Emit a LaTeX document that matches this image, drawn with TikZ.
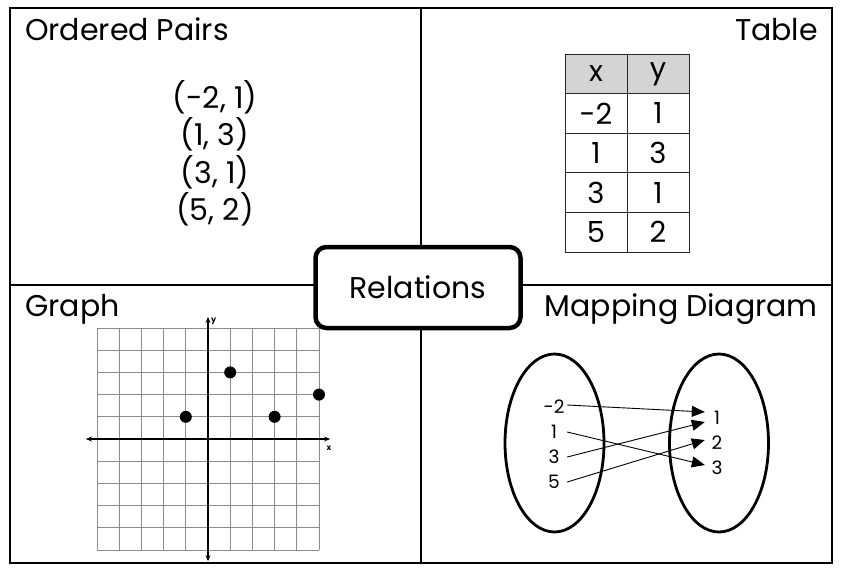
\documentclass[tikz,border=0pt]{standalone}
\usepackage{fontspec}
\setmainfont{Poppins}
\usetikzlibrary{arrows.meta}
\tikzset{
  titletext/.style={
    inner sep=0pt,
    font=\fontsize{30}{33}\selectfont
  },
  pairtext/.style={
    inner sep=0pt,
    anchor=base,
    font=\fontsize{30}{33}\selectfont
  },
  cellbox/.style={
    draw=black!85,
    line width=0.9pt,
    minimum width=62pt,
    minimum height=39.6pt,
    inner sep=0pt,
    font=\fontsize{29}{32}\selectfont
  },
  headbox/.style={
    cellbox,
    fill=black!17
  },
  centerbox/.style={
    draw=black,
    fill=white,
    line width=4.5pt,
    rounded corners=11pt,
    minimum width=205pt,
    minimum height=81pt,
    font=\fontsize{30}{33}\selectfont
  },
  gridline/.style={
    draw=black!45,
    line width=0.9pt
  },
  axisline/.style={
    {Stealth[length=6pt,width=5pt]}-{Stealth[length=6pt,width=5pt]},
    line width=1.8pt
  },
  axislabel/.style={
    inner sep=0pt,
    font=\fontsize{8}{9}\selectfont\bfseries
  },
  dotmark/.style={
    fill=black
  },
  setoval/.style={
    line width=2.8pt
  },
  mapnum/.style={
    inner sep=0pt,
    minimum width=24pt,
    minimum height=16pt,
    font=\fontsize{18.5}{20}\selectfont
  },
  maparrow/.style={
    -{Triangle[length=13pt,width=11pt]},
    line width=0.9pt
  }
}

\begin{document}
\begin{tikzpicture}[x=1pt,y=-1pt]
  \useasboundingbox (0,0) rectangle (842,570);

  % frame and quadrants
  \draw[line width=1.2pt] (10,8) rectangle (832,563);
  \draw[line width=1.2pt] (421,8) -- (421,563);
  \draw[line width=1.2pt] (10,285) -- (832,285);

  % titles
  \node[titletext, anchor=base west] (pairstitle) at (25,40) {Ordered Pairs};
  \node[titletext, anchor=base east] (tabletitle) at (818,40) {Table};
  \node[titletext, anchor=base west] (graphtitle) at (25,316) {Graph};
  \node[titletext, anchor=base east] (maptitle) at (818,316) {Mapping Diagram};

  % ordered pairs
  \node[pairtext] (pairA) at (215,108) {(-2, 1)};
  \node[pairtext] (pairB) at (215,145.5) {(1, 3)};
  \node[pairtext] (pairC) at (215,183) {(3, 1)};
  \node[pairtext] (pairD) at (215,220.5) {(5, 2)};

  % table
  \node[headbox] (headx) at (596,73.8) {x};
  \node[headbox] (heady) at (658,73.8) {y};
  \foreach \xv/\yv [count=\r] in {-2/1, 1/3, 3/1, 5/2} {
    \node[cellbox] (cellx\r) at (596,73.8+39.6*\r) {\xv};
    \node[cellbox] (celly\r) at (658,73.8+39.6*\r) {\yv};
  }

  % graph
  \begin{scope}[shift={(208,439)}, x=22.2pt, y=22.2pt]
    \foreach \k in {-5,...,5} {
      \draw[gridline] (\k,-5) -- (\k,5);
      \draw[gridline] (-5,\k) -- (5,\k);
    }
    \draw[axisline] (-5.5,0) -- (5.5,0);
    \draw[axisline] (0,-5.5) -- (0,5.5);
    \node[axislabel] (xlabel) at (5.45,-0.4) {x};
    \node[axislabel] (ylabel) at (0.25,5.28) {y};
    \foreach \px/\py in {-1/1, 1/3, 3/1, 5/2}
      \fill[dotmark] (\px,\py) circle[radius=6pt];
  \end{scope}

  % mapping diagram
  \draw[setoval] (554.5,443) ellipse[x radius=49.5pt, y radius=89pt];
  \draw[setoval] (719,443) ellipse[x radius=49.5pt, y radius=89pt];

  \node[mapnum] (domA) at (554,407) {-2};
  \node[mapnum] (domB) at (554,432) {1};
  \node[mapnum] (domC) at (554,457) {3};
  \node[mapnum] (domD) at (554,482) {5};
  \node[mapnum] (ranA) at (717,418) {1};
  \node[mapnum] (ranB) at (717,443) {2};
  \node[mapnum] (ranC) at (717,468) {3};

  \draw[maparrow] ([xshift=1pt,yshift=2pt]domA.east) -- ([yshift=6pt]ranA.west);
  \draw[maparrow] ([xshift=1pt]domB.east) -- ([yshift=3pt]ranC.west);
  \draw[maparrow] ([xshift=1pt]domC.east) -- ([yshift=-4pt]ranA.west);
  \draw[maparrow] ([xshift=1pt]domD.east) -- ([yshift=3pt]ranB.west);

  % center label
  \node[centerbox] (relations) at (418,287.5) {Relations};
\end{tikzpicture}
\end{document}
